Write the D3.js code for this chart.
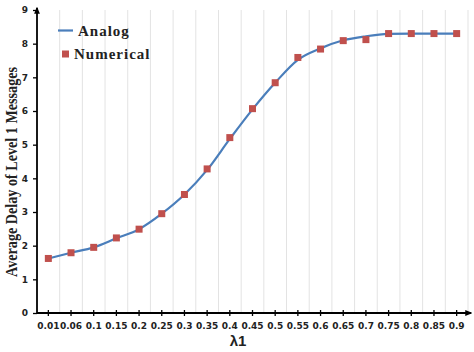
<!DOCTYPE html>
<html>
<head>
<meta charset="utf-8">
<script src="https://cdn.jsdelivr.net/npm/d3@7"></script>
<style>
  body { margin: 0; background: #fff; }
  svg { display: block; }
  .tick text { font-family: "DejaVu Sans", sans-serif; font-weight: bold; font-size: 9px; fill: #222; }
</style>
</head>
<body>
<div id="chart"></div>
<script>
// lambda1 categories
var lambdas = ["0.01", "0.06", "0.1", "0.15", "0.2", "0.25", "0.3", "0.35", "0.4", "0.45",
               "0.5", "0.55", "0.6", "0.65", "0.7", "0.75", "0.8", "0.85", "0.9"];
// Analog (line) values
var analog = [1.62, 1.79, 1.95, 2.22, 2.49, 2.95, 3.52, 4.25, 5.17, 6.05,
              6.84, 7.52, 7.86, 8.10, 8.22, 8.29, 8.30, 8.30, 8.30];
// Numerical (markers) values
var numerical = [1.62, 1.79, 1.95, 2.23, 2.49, 2.95, 3.52, 4.28, 5.21, 6.07,
                 6.84, 7.59, 7.84, 8.09, 8.12, 8.30, 8.30, 8.30, 8.30];
var yTicks = [0, 1, 2, 3, 4, 5, 6, 7, 8, 9];

var svgWidth = 474;
var svgHeight = 352;
var margin = { top: 10, right: 6, bottom: 39, left: 37 };
var width = svgWidth - margin.left - margin.right;
var height = svgHeight - margin.top - margin.bottom;

var svg = d3.select("#chart")
  .append("svg")
  .attr("width", svgWidth)
  .attr("height", svgHeight);

var chartGroup = svg.append("g")
  .attr("transform", `translate(${margin.left}, ${margin.top})`);

// scales
var xBand = d3.scaleBand()
  .domain(lambdas)
  .range([0, 431])
  .paddingInner(0)
  .paddingOuter(0);

var yLinearScale = d3.scaleLinear()
  .domain([0, 9])
  .range([height, 0]);

var xc = d => xBand(d) + xBand.bandwidth() / 2;

// vertical gridlines at band boundaries
chartGroup.append("g")
  .selectAll("line")
  .data(lambdas.slice(1).concat(["end"]))
  .enter()
  .append("line")
  .attr("x1", (d, i) => xBand.bandwidth() * (i + 1))
  .attr("x2", (d, i) => xBand.bandwidth() * (i + 1))
  .attr("y1", 0)
  .attr("y2", height)
  .attr("stroke", "#e3e3e3")
  .attr("stroke-width", 1);

// x axis
var bottomAxis = d3.axisBottom(xBand).tickSizeInner(3).tickSizeOuter(0).tickPadding(7);
var xAxis = chartGroup.append("g")
  .attr("transform", `translate(0, ${height})`)
  .call(bottomAxis);
xAxis.select(".domain").remove();
xAxis.selectAll(".tick line").attr("y1", -3).attr("y2", 3).attr("stroke", "#000").attr("stroke-width", 1.3);

// y axis
var leftAxis = d3.axisLeft(yLinearScale).tickValues(yTicks).tickSizeInner(4).tickSizeOuter(0).tickPadding(5)
  .tickFormat(d3.format("d"));
var yAxis = chartGroup.append("g").call(leftAxis);
yAxis.select(".domain").remove();
yAxis.selectAll(".tick line").attr("stroke", "#000").attr("stroke-width", 1.3);

// axis lines with arrows
svg.append("defs").append("marker")
  .attr("id", "arrow")
  .attr("viewBox", "0 0 10 10")
  .attr("refX", 8)
  .attr("refY", 5)
  .attr("markerWidth", 4)
  .attr("markerHeight", 4)
  .attr("orient", "auto")
  .append("path")
  .attr("d", "M0,1 L10,5 L0,9 Z")
  .attr("fill", "#000");

chartGroup.append("line")
  .attr("x1", 0).attr("y1", height)
  .attr("x2", 0).attr("y2", -2)
  .attr("stroke", "#000").attr("stroke-width", 1.8)
  .attr("marker-end", "url(#arrow)");

chartGroup.append("line")
  .attr("x1", 0).attr("y1", height)
  .attr("x2", 434).attr("y2", height)
  .attr("stroke", "#000").attr("stroke-width", 1.8)
  .attr("marker-end", "url(#arrow)");

// analog line
var line = d3.line()
  .x((d, i) => xc(lambdas[i]))
  .y(d => yLinearScale(d))
  .curve(d3.curveMonotoneX);

chartGroup.append("path")
  .datum(analog)
  .attr("d", line)
  .attr("fill", "none")
  .attr("stroke", "#4a7ebb")
  .attr("stroke-width", 2.2);

// numerical markers
var m = 7;
chartGroup.append("g")
  .selectAll("rect")
  .data(numerical)
  .enter()
  .append("rect")
  .attr("x", (d, i) => xc(lambdas[i]) - m / 2)
  .attr("y", d => yLinearScale(d) - m / 2)
  .attr("width", m)
  .attr("height", m)
  .attr("fill", "#c0504d");

// legend
var legend = svg.append("g");
legend.append("line")
  .attr("x1", 58).attr("x2", 73)
  .attr("y1", 30.5).attr("y2", 30.5)
  .attr("stroke", "#4a7ebb").attr("stroke-width", 2.2);
legend.append("text")
  .attr("x", 78).attr("y", 36)
  .attr("font-family", "Liberation Serif, serif")
  .attr("font-weight", "bold")
  .attr("font-size", 15)
  .attr("letter-spacing", 1)
  .attr("fill", "#222")
  .text("Analog");
legend.append("rect")
  .attr("x", 62).attr("y", 50.5)
  .attr("width", m).attr("height", m)
  .attr("fill", "#c0504d");
legend.append("text")
  .attr("x", 74).attr("y", 59)
  .attr("font-family", "Liberation Serif, serif")
  .attr("font-weight", "bold")
  .attr("font-size", 15)
  .attr("letter-spacing", 1)
  .attr("fill", "#222")
  .text("Numerical");

// axis titles
svg.append("text")
  .attr("transform", "translate(17, 172) rotate(-90)")
  .attr("text-anchor", "middle")
  .attr("font-family", "Liberation Serif, serif")
  .attr("font-weight", "bold")
  .attr("font-size", 16.5)
  .attr("textLength", 210)
  .attr("lengthAdjust", "spacingAndGlyphs")
  .attr("fill", "#222")
  .text("Average Delay of Level 1 Messages");

svg.append("text")
  .attr("x", 238)
  .attr("y", 346)
  .attr("text-anchor", "middle")
  .attr("font-family", "Liberation Sans, Arial, sans-serif")
  .attr("font-weight", "bold")
  .attr("font-size", 15)
  .attr("fill", "#222")
  .text("λ1");
</script>
</body>
</html>
